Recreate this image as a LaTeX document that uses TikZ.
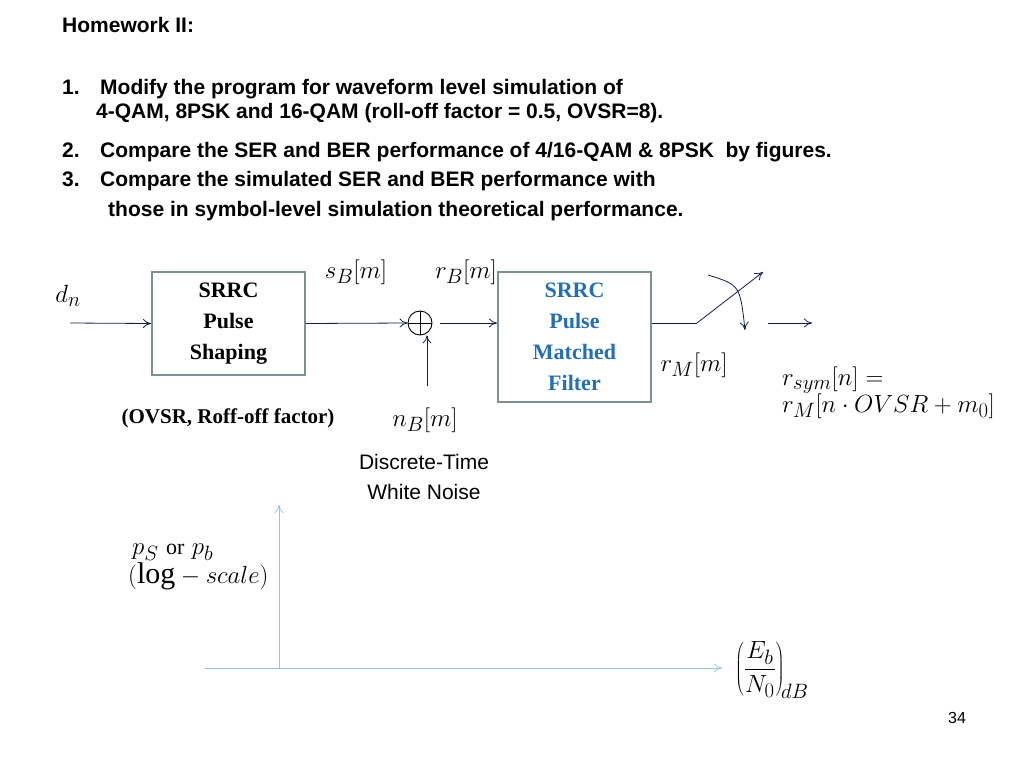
\documentclass[tikz,border=0pt]{standalone}
\usepackage{fontspec}
\setmainfont{Liberation Serif}
\newfontfamily\arialf{Liberation Sans}
\usetikzlibrary{arrows.meta}
\definecolor{boxgray}{RGB}{125,145,145}
\definecolor{mfblue}{RGB}{35,110,180}
\definecolor{axisc}{RGB}{150,200,210}
\definecolor{arrc}{RGB}{20,30,70}
\tikzset{
 tl/.style={anchor=base west,font=\arialf\fontsize{21}{23}\selectfont\bfseries,inner sep=0},
 blk/.style={draw=boxgray,line width=2pt,minimum width=153pt,align=center,font=\fontsize{22}{31}\selectfont\bfseries},
 sig/.style={draw=arrc,line width=0.8pt,-{To[length=8pt,width=9pt]}},
 mt/.style={font=\fontsize{30}{32}\selectfont,inner sep=0},
 ax/.style={draw=axisc,line width=0.8pt,-{To[length=8pt,width=9pt]}}
}
\begin{document}
\begin{tikzpicture}[x=1pt,y=-1pt]
\useasboundingbox (0,0) rectangle (1024,768);
\node[tl] (t0) at (62,33) {Homework II:};
\node[tl] (n1) at (62,94) {1.};
\node[tl] (t1) at (100,94) {Modify the program for waveform level simulation of};
\node[tl] (t1b) at (96,118) {4-QAM, 8PSK and 16-QAM (roll-off factor = 0.5, OVSR=8).};
\node[tl] (n2) at (62,157) {2.};
\node[tl] (t2) at (100,157) {Compare the SER and BER performance of 4/16-QAM \& 8PSK\ \ by figures.};
\node[tl] (n3) at (62,186) {3.};
\node[tl] (t3) at (100,186) {Compare the simulated SER and BER performance with};
\node[tl] (t3b) at (108,216) {those in symbol-level simulation theoretical performance.};

\node[blk,minimum height=103pt] (b1) at (228.5,323.5) {SRRC\\Pulse\\Shaping};
\node[blk,minimum height=130pt,text=mfblue] (b2) at (574.5,337) {SRRC\\Pulse\\Matched\\Filter};
\node[draw=black,circle,line width=0.9pt,minimum size=24pt,inner sep=0] (sum) at (420,323) {};
\draw[line width=0.9pt] (sum.north)--(sum.south) (sum.west)--(sum.east);
\coordinate (din) at (70,323);
\coordinate (nin) at (427,386);
\coordinate (sw1) at (697,323);
\coordinate (sw2) at (763,272);
\coordinate (ca) at (708,275);
\coordinate (cb) at (745,330);
\coordinate (o1) at (768,323);
\coordinate (o2) at (812,323);
\draw[sig] (din) -- (b1.west);
\draw[sig] (b1.east) -- (sum.west);
\draw[sig] (sum.east) ++(8,0) -- (b2.west |- sum.east);
\draw[sig] (nin) -- (sum.south -| nin);
\draw[draw=arrc,line width=0.8pt] (b2.east |- sw1) -- (sw1);
\draw[sig] (sw1) -- (sw2);
\draw[sig] (ca) .. controls (740,285) .. (cb);
\draw[sig] (o1) -- (o2);

\node[mt] (dn) at (68,296) {$d_n$};
\node[mt] (sb) at (356,272) {$s_B\bigl[m\bigr]$};
\node[mt] (rb) at (466,272) {$r_B\bigl[m\bigr]$};
\node[mt] (rm) at (694,365) {$r_M\bigl[m\bigr]$};
\node[mt] (nb) at (425,420) {$n_B\bigl[m\bigr]$};
\node[font=\fontsize{21}{23}\selectfont\bfseries,inner sep=0] (par) at (228,418) {(OVSR, Roff-off factor)};
\node[mt,anchor=west] (rs) at (782,380) {$r_{sym}\bigl[n\bigr]=$};
\node[mt,anchor=west] (rs2) at (782,406) {$r_M\bigl[n\cdot OVSR+m_0\bigr]$};
\node[align=center,font=\arialf\fontsize{21}{30}\selectfont,inner sep=0] (wn) at (424,477) {Discrete-Time\\White Noise};

\coordinate (ay1) at (279,668);
\coordinate (ay2) at (279,505);
\coordinate (ax1) at (205,668);
\coordinate (ax2) at (722,668);
\draw[ax] (ay1) -- (ay2);
\draw[ax] (ax1) -- (ax2);
\node[mt,anchor=west] (ps) at (132,552) {$p_S$ {\fontsize{22}{24}\selectfont or} $p_b$};
\node[mt,anchor=west] (ls) at (128,576) {$\bigl(\mathrm{log}-scale\bigr)$};
\node[mt,anchor=west] (eb) at (735,670) {$\left(\displaystyle\frac{E_b}{N_0}\right)_{\!dB}$};
\node[font=\arialf\fontsize{16}{18}\selectfont,inner sep=0] (pg) at (957,718) {34};
\end{tikzpicture}
\end{document}
